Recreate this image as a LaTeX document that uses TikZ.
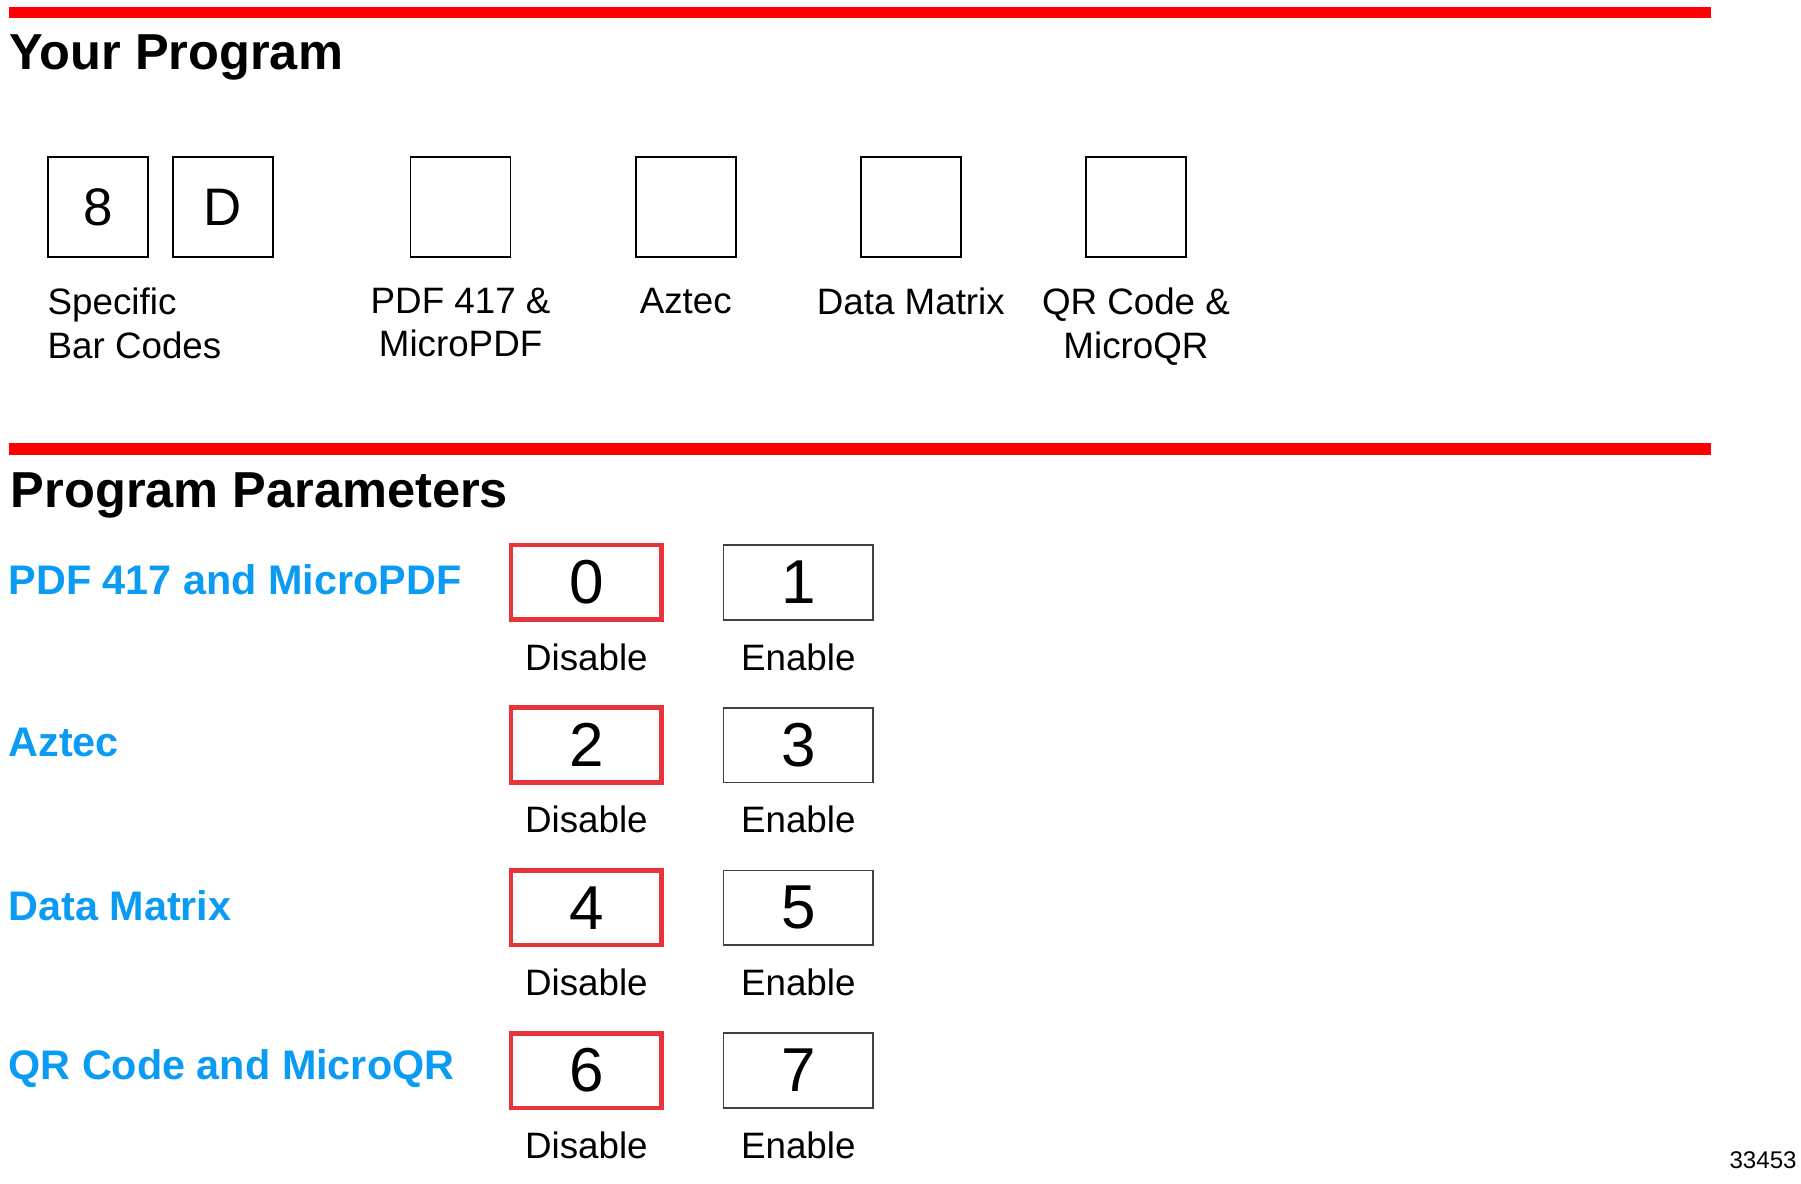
\documentclass[tikz,border=0pt]{standalone}
\usepackage{fontspec}
\setmainfont{Liberation Sans}
\definecolor{rline}{HTML}{FF0000}
\definecolor{blu}{HTML}{0A9BF5}
\definecolor{rbox}{HTML}{E8333B}
\begin{document}
\begin{tikzpicture}[x=1pt,y=-1pt,
  head/.style={anchor=west,font=\fontsize{44}{48}\selectfont\bfseries},
  sbox/.style={draw,line width=1.5pt,minimum width=87pt,minimum height=87pt,font=\fontsize{46}{50}\selectfont},
  lbl/.style={font=\fontsize{32}{38}\selectfont,align=center},
  blab/.style={anchor=west,text=blu,font=\fontsize{36}{40}\selectfont\bfseries},
  redb/.style={draw=rbox,line width=4pt,minimum width=131pt,minimum height=65pt,font=\fontsize{54}{58}\selectfont},
  blkb/.style={draw=black!75,line width=1.5pt,minimum width=130pt,minimum height=65pt,font=\fontsize{54}{58}\selectfont}]
\useasboundingbox (0,0) rectangle (1568,1030);
\draw[rline,line width=10pt] (8,11) -- (1490,11);
\draw[rline,line width=10pt] (8,391) -- (1490,391);
\node[head] (h1) at (5,50) {Your Program};
\node[head] (h2) at (6,431) {Program Parameters};
\node[sbox] (b8) at (85.5,180.5) {8};
\node[sbox] (bD) at (194,180.5) {D};
\node[sbox] (b1) at (401,180.5) {};
\node[sbox] (b2) at (597,180.5) {};
\node[sbox] (b3) at (793,180.5) {};
\node[sbox] (b4) at (989,180.5) {};
\node[lbl,align=left,anchor=north west] (l0) at (38,247) {Specific\\Bar Codes};
\node[lbl,anchor=north] (l1) at (401,247) {PDF 417 \&\\MicroPDF};
\node[lbl,anchor=north] (l2) at (597,247) {Aztec};
\node[lbl,anchor=north] (l3) at (793,247) {Data Matrix};
\node[lbl,anchor=north] (l4) at (989,247) {QR Code \&\\MicroQR};
\foreach \i/\t/\a/\b in {0/PDF 417 and MicroPDF/0/1,1/Aztec/2/3,2/Data Matrix/4/5,3/QR Code and MicroQR/6/7}{
  \node[blab] (bl\i) at (4,{505+141.7*\i}) {\t};
  \node[redb] (rd\i) at (510.5,{507+141.7*\i}) {\a};
  \node[blkb] (en\i) at (695,{507+141.7*\i}) {\b};
  \node[lbl] (dl\i) at (510.5,{572+141.7*\i}) {Disable};
  \node[lbl] (el\i) at (695,{572+141.7*\i}) {Enable};
}
\node[font=\fontsize{21}{24}\selectfont] (num) at (1535,1010) {33453};
\end{tikzpicture}
\end{document}
